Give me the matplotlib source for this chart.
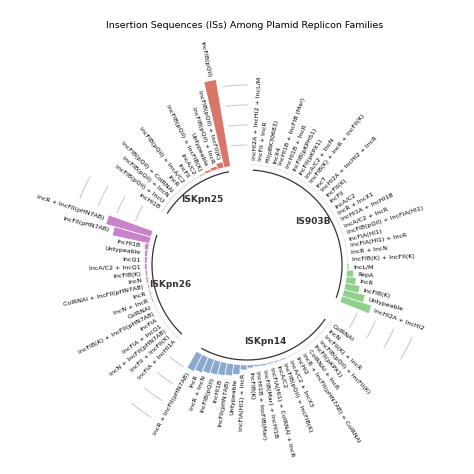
import numpy as np
import matplotlib
matplotlib.use("Agg")
import matplotlib.pyplot as plt

# groups in drawing order (counter-clockwise from the top)
groups = ["ISKpn25", "ISKpn26", "ISKpn14", "IS903B"]
group_colors = ["#d9766a", "#c983cb", "#8ba8cf", "#8fd08b"]

iskpn25_names = [
    "IncFIB(pQil)", "IncFIB(pQil) + IncFII(K)", "IncFIB(pQil) + IncR", "Untypeable",
    "IncFIB(pQil) + IncFIB(K)", "IncA/C2", "IncFII", "IncFIB(pQil) + IncA/C2",
    "IncR", "IncFIB(pQil) + ColRNAI", "IncFIB(pQil) + IncN", "IncFIB(pQil) + IncU",
    "IncHI1B",
]
iskpn25_values = [88, 6, 3.5, 2.5, 1.5, 1, 1, 1, 1, 1, 1, 1, 1]

iskpn26_names = [
    "IncR + IncFII(pHN7AB)", "IncFII(pHN7AB)", "IncHI1B", "Untypeable", "IncQ1",
    "IncA/C2 + IncQ1", "IncFIB(K)", "IncN", "ColRNAI + IncFII(pHN7AB)", "IncR",
    "IncN + IncR", "ColRNAI", "IncFIB(K) + IncFII(pHN7AB)", "IncFIA", "IncFIA + IncQ1",
    "IncN + IncFII(pHN7AB)", "IncFII + IncFII(K)", "IncFIA + IncHI1A",
]
iskpn26_values = [47, 38, 4, 3, 2.5, 2.5, 2, 2, 1.5, 1.5, 1.5, 1, 1, 1, 1, 1, 1, 1]

iskpn14_names = [
    "IncR + IncFII(pHN7AB)", "IncR", "IncR + IncN", "IncFIB(pQil)", "IncHI1B",
    "IncFII(pHN7AB)", "Untypeable", "IncFIA(HI1) + IncR", "IncFIB(K)",
    "IncHI1B + IncFIB(Mar)", "IncFIB(Mar) + IncHI1B", "IncFIA(HI1) + ColRNAI + IncR",
    "IncA/C2", "IncFIB(pQil) + IncFIB(K)", "IncA/C2 + IncX3", "IncHI2",
    "IncR + IncFII(pHN7AB) + ColRNAI", "ColRNAI + IncR", "IncFII(pKPX1)",
    "IncFIB(pQil) + IncFII(K)", "IncFII(K) + IncR", "IncN", "ColRNAI",
]
iskpn14_values = [19, 17, 15, 14, 13, 12, 10, 5, 3, 2, 2, 1.5, 1.5, 1.5,
                  1, 1, 1, 1, 1, 1, 1, 1, 1]

is903b_names = [
    "IncHI2A + IncHI2", "Untypeable", "IncFIB(K)", "IncR", "RepA", "IncL/M",
    "IncFIB(K) + IncFII(K)", "IncR + IncN", "IncFIA(HI1) + IncR", "IncFIA(HI1)",
    "IncFIB(pQil) + IncFIA(HI1)", "IncA/C2 + IncR", "IncHI1A + IncHI1B",
    "IncR + IncX1", "IncA/C2", "IncFII", "IncFII(K)", "IncHI2A + IncHI2 + IncR",
    "IncT", "IncFIB(K) + IncR + IncFII(K)", "IncA/C2 + IncN", "IncFII(pKPX1)",
    "IncFIB(pKPHS1)", "IncHI1B + IncR", "IncHI1B + IncFIB (Mar)", "IncX4",
    "FII(pBK30683)", "IncFII + IncR", "IncHI2A + IncHI2 + IncL/M",
]
is903b_values = [31, 22, 15, 10, 7, 2] + [1] * 23

names = [iskpn25_names, iskpn26_names, iskpn14_names, is903b_names]
values = [iskpn25_values, iskpn26_values, iskpn14_values, is903b_values]


def get_label_rotation(angle, offset):
    rotation = np.rad2deg(angle + offset)
    if angle <= np.pi:
        alignment = "right"
        rotation = rotation + 180
    else:
        alignment = "left"
    return rotation, alignment


OFFSET = np.pi / 2
PAD = 3
sizes = [len(v) for v in values]
VALUES = np.concatenate(values)
LABELS = sum(names, [])
COLORS = [c for c, n in zip(group_colors, sizes) for _ in range(n)]

ANGLES_N = len(VALUES) + PAD * len(groups)
ANGLES = np.linspace(0, 2 * np.pi, num=ANGLES_N, endpoint=False)
WIDTH = (2 * np.pi) / len(ANGLES)

offset = 0
IDXS = []
for size in sizes:
    IDXS += list(range(offset + PAD, offset + size + PAD))
    offset += size + PAD

fig = plt.figure(figsize=(4.74, 4.74), dpi=100)
ax = fig.add_axes([0.0992, 0.019, 0.8439, 0.8439], projection="polar")
ax.set_theta_offset(OFFSET)
ax.set_ylim(-100, 100)
ax.set_frame_on(False)
ax.xaxis.grid(False)
ax.yaxis.grid(False)
ax.set_xticks([])
ax.set_yticks([])

ax.bar(ANGLES[IDXS], VALUES, width=WIDTH, color=COLORS,
       edgecolor="white", linewidth=0.5)

for angle, value, label in zip(ANGLES[IDXS], VALUES, LABELS):
    rotation, alignment = get_label_rotation(angle, OFFSET)
    ax.text(angle, value + 4, label, ha=alignment, va="center",
            rotation=rotation, rotation_mode="anchor", fontsize=4.5)

offset = 0
for group, size in zip(groups, sizes):
    # line below the bars
    x1 = np.linspace(ANGLES[offset + PAD], ANGLES[offset + size + PAD - 1], num=50)
    ax.plot(x1, [-5] * 50, color="#333333", lw=0.9)
    ax.text(np.mean(x1), -21, group, color="#333333", fontsize=6.5,
            fontweight="bold", ha="center", va="center")

    # reference lines in the gap
    x2 = np.linspace(ANGLES[offset], ANGLES[offset + PAD - 1], num=50)
    for ref in [20, 40, 60, 80]:
        ax.plot(x2, [ref] * 50, color="#bebebe", lw=0.6)
    offset += size + PAD

fig.text(245 / 474, 1 - 25 / 474,
         "Insertion Sequences (ISs) Among Plamid Replicon Families",
         ha="center", va="center", fontsize=6.8)

fig.savefig("out.png", dpi=100)
